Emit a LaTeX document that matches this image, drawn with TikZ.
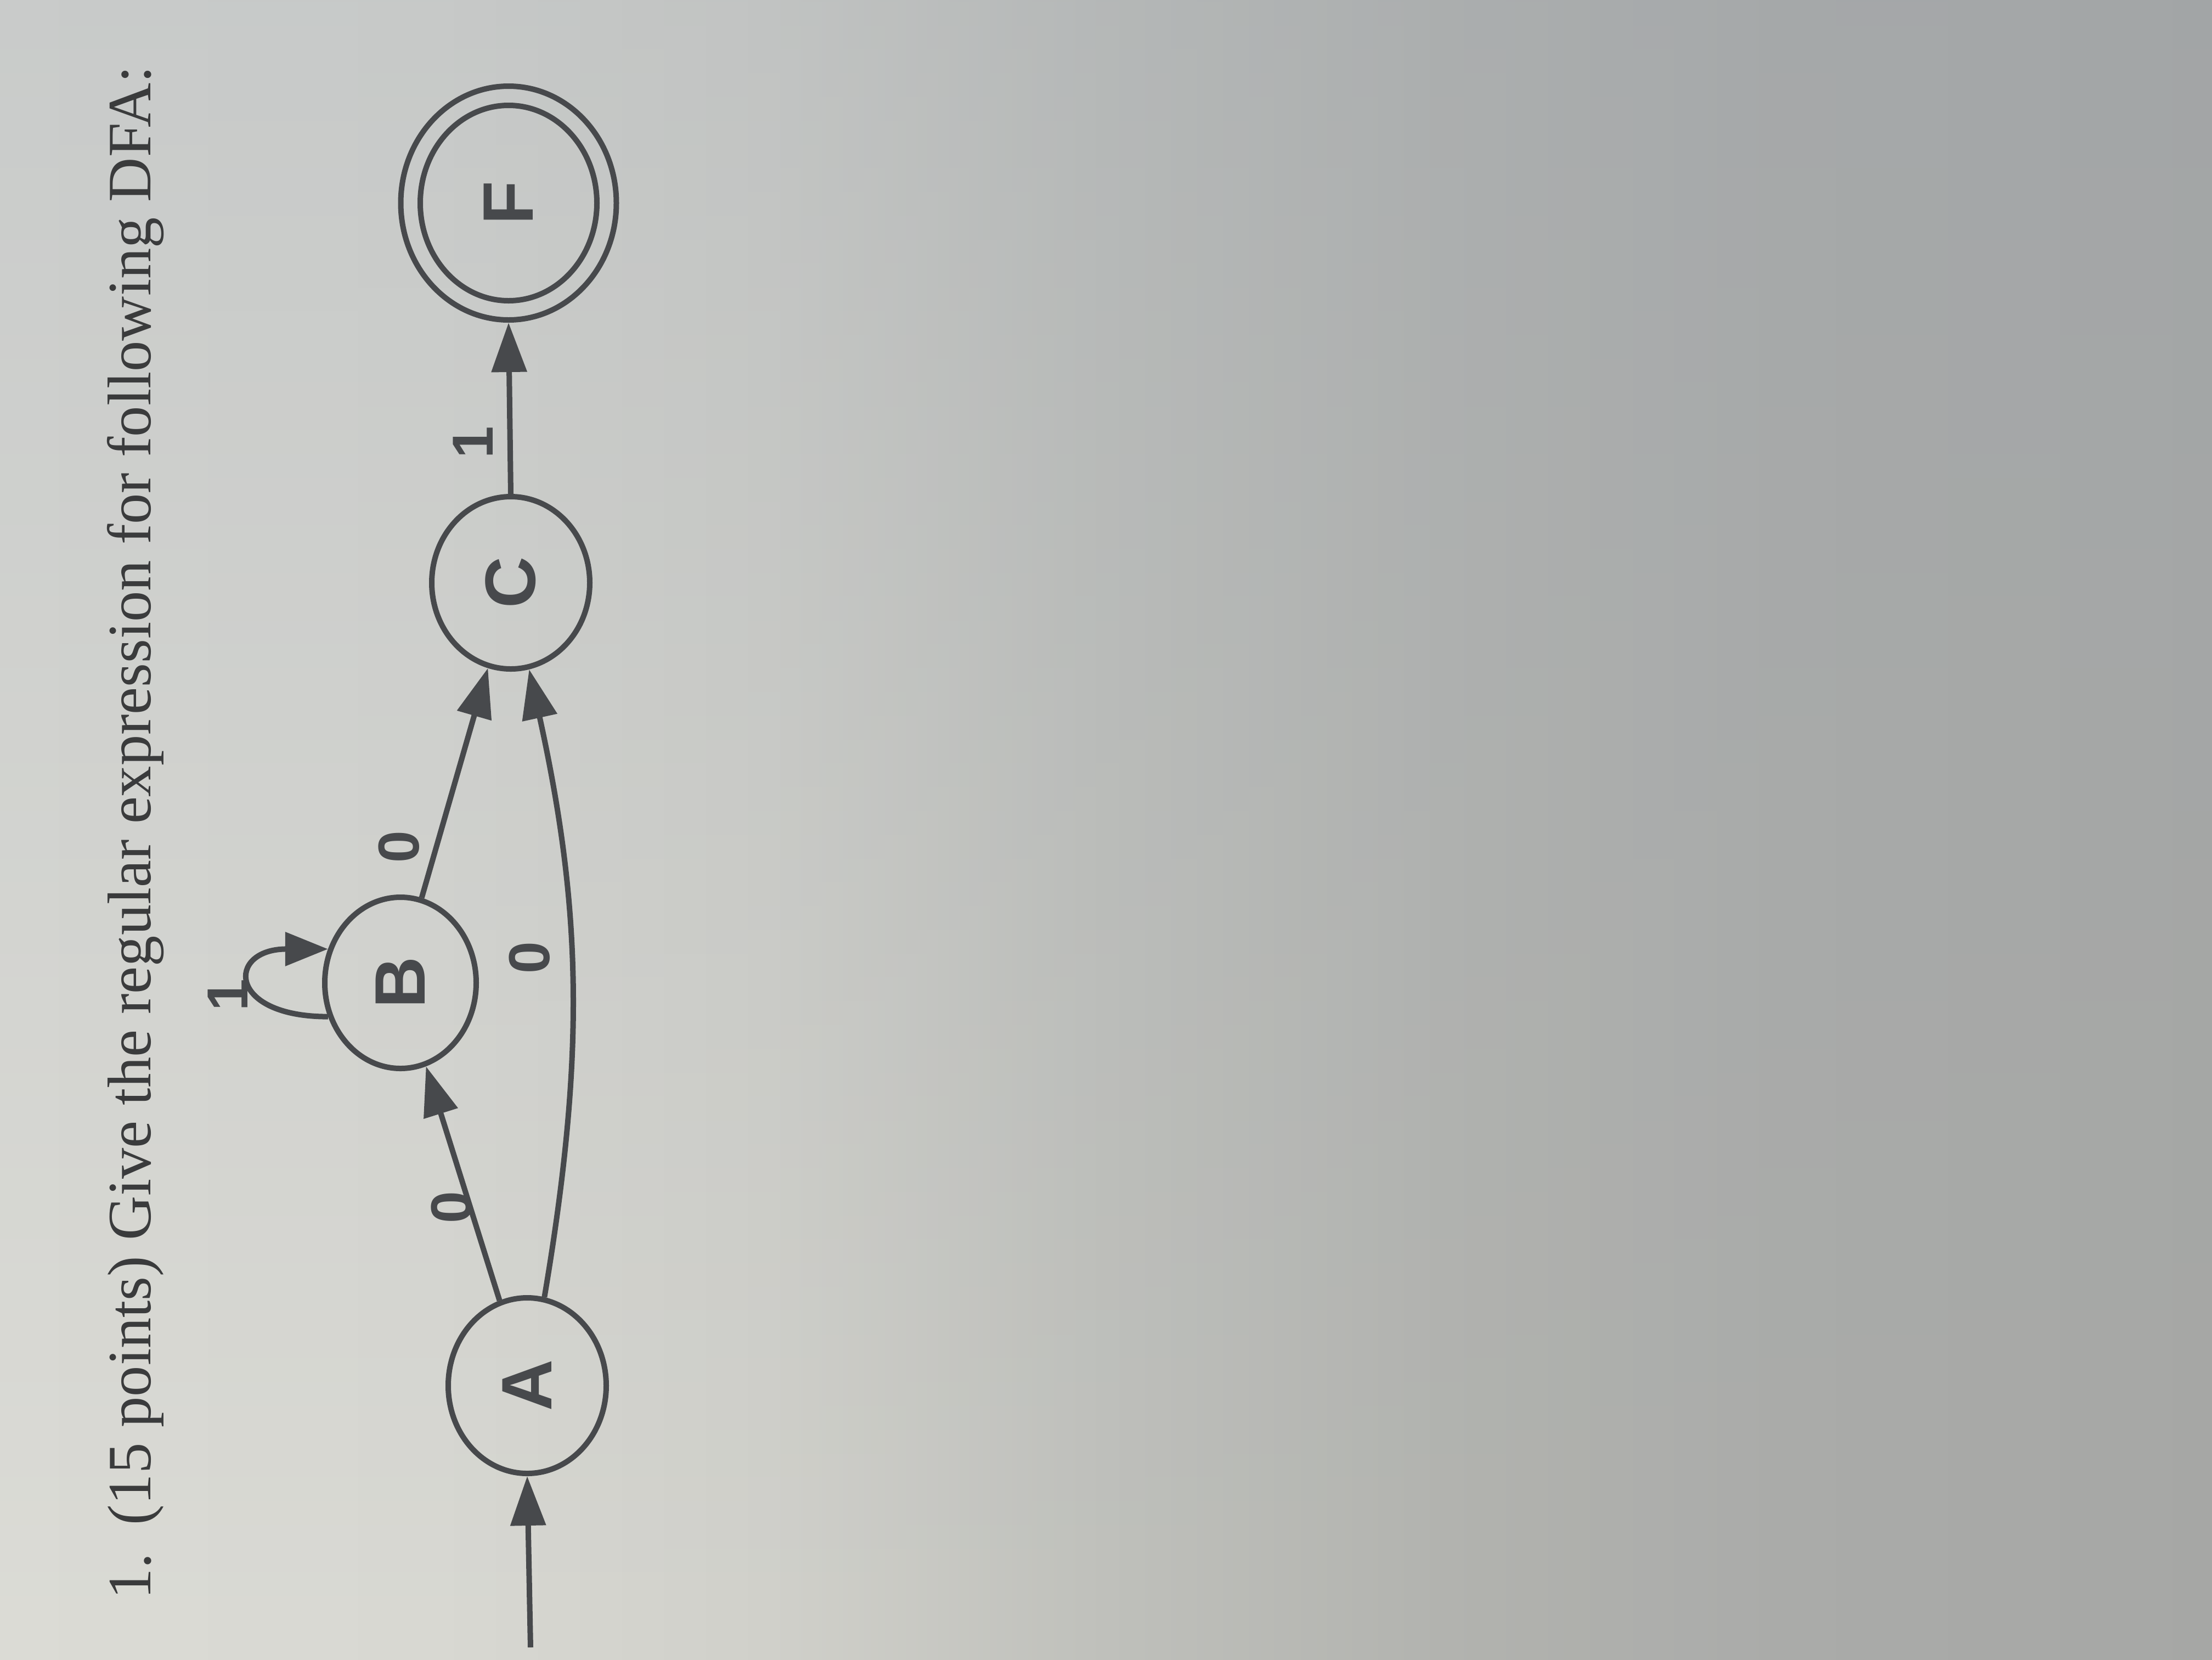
\documentclass[tikz,border=0pt]{standalone}
\usepackage{fontspec}
\setmainfont{Liberation Serif}
\newfontfamily\lblfont{Liberation Sans}
\usetikzlibrary{shapes.geometric,arrows.meta,fadings}

\definecolor{ink}{HTML}{47494C}
\definecolor{titleink}{HTML}{3A3B3C}
\definecolor{pa}{HTML}{DCDCD6}
\definecolor{pb}{HTML}{D9D9D3}
\definecolor{pc}{HTML}{D1D1CB}
\definecolor{pd}{HTML}{C0C1BC}
\definecolor{pe}{HTML}{B3B4B0}
\definecolor{pf}{HTML}{ABACA9}
\definecolor{pg}{HTML}{A7A8A5}
\definecolor{tintc}{HTML}{98A0AC}

\pgfdeclarehorizontalshading{paper}{100bp}{color(0bp)=(pa); color(25bp)=(pa); color(35bp)=(pb); color(42.5bp)=(pc); color(50bp)=(pd); color(57.5bp)=(pe); color(65bp)=(pf); color(75bp)=(pg); color(100bp)=(pg)}
\tikzfading[name=topfade, top color=transparent!72, bottom color=transparent!100]

\begin{document}
\begin{tikzpicture}[x=1cm,y=1cm,
  conn/.style={draw=ink, line width=0.1cm},
  arr/.style={-{Triangle[length=0.9cm,width=0.63cm]}},
  looparr/.style={-{Triangle[length=0.78cm,width=0.6cm]}},
  stnode/.style={ellipse, draw=ink, line width=0.1cm, inner sep=0pt, text=ink,
    font=\lblfont\bfseries\fontsize{37pt}{37pt}\selectfont},
  lbl/.style={inner sep=0pt, text=ink, font=\lblfont\bfseries\fontsize{30pt}{30pt}\selectfont},
  ttl/.style={inner sep=0pt, text=titleink, font=\fontsize{32pt}{32pt}\selectfont}
]
\useasboundingbox (0,0) rectangle (40.32,-30.24);
\fill[pd] (-0.3,0.3) rectangle (40.62,-30.54);
\shade[shading=paper] (-0.3,0.3) rectangle (40.62,-30.54);
\fill[tintc, path fading=topfade] (-0.3,0.3) rectangle (40.62,-30.54);

% title
\node[ttl, rotate=90, anchor=base west] (title) at (2.74,-29.15)
  {1.\hspace{0.45em}(15 points) Give the regular expression for following DFA:};

% states
\node[stnode, minimum width=2.88cm, minimum height=3.20cm] (A) at (9.61,-25.25) {\rotatebox{90}{A}};
\node[stnode, minimum width=2.76cm, minimum height=3.12cm] (B) at (7.30,-17.91) {\rotatebox{90}{B}};
\node[stnode, minimum width=2.88cm, minimum height=3.14cm] (C) at (9.31,-10.62) {\rotatebox{90}{C}};
\node[stnode, minimum width=3.93cm, minimum height=4.26cm] (F) at (9.27,-3.70) {\rotatebox{90}{F}};
\draw[conn] (F.center) ellipse [x radius=1.61cm, y radius=1.78cm];

% start arrow
\coordinate (s0) at (9.67,-30.02);
\draw[conn, arr] (s0) -- (A.south);

% transitions
\draw[conn, arr] (A.108) -- (B.-73.3);
\draw[conn, arr] (A.79) to[bend right=11] (C.-78.7);
\draw[conn, arr] (B.76.6) -- (C.-105);
\draw[conn, arr] (C.north) -- (F.south);
\draw[conn, looparr] (B.205.7) .. controls +(180:1.85) and +(180:1.85) .. (B.155.4);

% labels
\node[lbl] (lAB) at (8.23,-22.00) {\rotatebox{90}{0}};
\node[lbl] (lBC) at (7.27,-15.43) {\rotatebox{90}{0}};
\node[lbl] (lAC) at (9.65,-17.45) {\rotatebox{90}{0}};
\node[lbl] (lBB) at (4.15,-18.13) {\rotatebox{90}{1}};
\node[lbl] (lCF) at (8.62,-8.06) {\rotatebox{90}{1}};
\end{tikzpicture}
\end{document}
